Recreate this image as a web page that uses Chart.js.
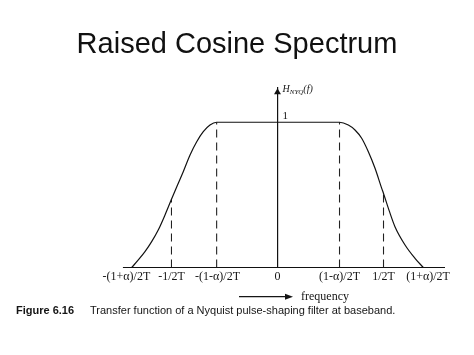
<!DOCTYPE html>
<html>
<head>
<meta charset="utf-8">
<script src="https://cdn.jsdelivr.net/npm/chart.js@4/dist/chart.umd.min.js"></script>
<style>
  html, body { margin: 0; padding: 0; background: #ffffff; }
  #wrap { width: 474px; height: 355px; position: relative; }
</style>
</head>
<body>
<div id="wrap"><canvas id="c" width="474" height="355"></canvas></div>
<script>
// ---- data (x in units of 1/2T, y = |H| normalised) ----
const tickValues = [-1.425, -1.0, -0.566, 0, 0.585, 1.0, 1.42];
const tickLabels = ['-(1+\u03b1)/2T', '-1/2T', '-(1-\u03b1)/2T', '0', '(1-\u03b1)/2T', '1/2T', '(1+\u03b1)/2T'];

const curveX = [-1.375, -1.313, -1.25, -1.187, -1.125, -1.061, -1.0, -0.951, -0.889, -0.825, -0.762, -0.70, -0.637, -0.574,
                 0.585, 0.668, 0.731, 0.794, 0.857, 0.92, 0.983, 1.0, 1.054, 1.108, 1.203, 1.297, 1.375];
const curveY = [0, 0.052, 0.109, 0.178, 0.258, 0.362, 0.47, 0.555, 0.66, 0.775, 0.866, 0.935, 0.981, 1.0,
                1.0, 0.981, 0.947, 0.89, 0.797, 0.683, 0.545, 0.51, 0.39, 0.281, 0.155, 0.063, 0];

const markerX = [-1.0, -0.574, 0.585, 1.0];
const markerTop = [0.47, 1.0, 1.0, 0.51];

const baselineX = [-1.458, 1.58];
const axisTop = 1.206;

// ---- build datasets ----
const curvePts = curveX.map((x, i) => ({ x: x, y: curveY[i] }));
const markerPts = [];
markerX.forEach((x, i) => {
  markerPts.push({ x: x, y: 0 }, { x: x, y: markerTop[i] });
  if (i < markerX.length - 1) markerPts.push({ x: x, y: null });
});

const extras = {
  id: 'extras',
  afterDraw(chart) {
    const ctx = chart.ctx;
    const xs = chart.scales.x, ys = chart.scales.y;
    const x0 = xs.getPixelForValue(0);
    ctx.save();
    ctx.fillStyle = '#151515';
    ctx.strokeStyle = '#151515';
    // "1" label
    ctx.font = '11px "Liberation Serif"';
    ctx.textAlign = 'left';
    ctx.textBaseline = 'alphabetic';
    ctx.fillText('1', x0 + 5, ys.getPixelForValue(1) - 3);
    // H_NYQ(f)
    const yl = ys.getPixelForValue(axisTop);
    ctx.font = 'italic 10px "Liberation Serif"';
    let xx = x0 + 5;
    ctx.fillText('H', xx, yl);
    xx += ctx.measureText('H').width;
    ctx.font = 'italic 7px "Liberation Serif"';
    ctx.fillText('NYQ', xx, yl + 2);
    xx += ctx.measureText('NYQ').width;
    ctx.font = 'italic 10px "Liberation Serif"';
    ctx.fillText('(f)', xx, yl);
    // frequency arrow
    ctx.lineWidth = 1.2;
    ctx.beginPath();
    ctx.moveTo(239, 296.7);
    ctx.lineTo(287, 296.7);
    ctx.stroke();
    ctx.beginPath();
    ctx.moveTo(293, 296.7);
    ctx.lineTo(285, 293.7);
    ctx.lineTo(285, 299.7);
    ctx.closePath();
    ctx.fill();
    ctx.font = '12px "Liberation Serif"';
    ctx.textBaseline = 'middle';
    ctx.textAlign = 'center';
    ctx.fillText('frequency', 325, 297);
    // caption
    ctx.textAlign = 'left';
    ctx.font = 'bold 11px "Liberation Sans"';
    ctx.fillText('Figure 6.16', 16, 311);
    ctx.font = '11px "Liberation Sans"';
    ctx.fillText('Transfer function of a Nyquist pulse-shaping filter at baseband.', 90, 311);
    ctx.restore();
  }
};

new Chart(document.getElementById('c'), {
  type: 'line',
  data: {
    datasets: [
      {
        label: 'H',
        data: curvePts,
        borderColor: '#111111',
        borderWidth: 1.2,
        pointRadius: 0,
        cubicInterpolationMode: 'monotone',
        fill: false
      },
      {
        label: 'markers',
        data: markerPts,
        borderColor: '#222222',
        borderWidth: 1.1,
        borderDash: [8, 5],
        pointRadius: 0,
        spanGaps: false,
        fill: false
      },
      {
        label: 'baseline',
        data: baselineX.map(x => ({ x: x, y: 0 })),
        borderColor: '#111111',
        borderWidth: 1.2,
        pointRadius: 0,
        clip: false,
        fill: false
      },
      {
        label: 'arrow',
        data: [{ x: 0, y: axisTop }],
        showLine: false,
        pointStyle: 'triangle',
        pointRadius: 4,
        pointBackgroundColor: '#111111',
        pointBorderColor: '#111111',
        pointBorderWidth: 0,
        clip: false
      }
    ]
  },
  options: {
    responsive: false,
    animation: false,
    events: [],
    layout: { padding: { left: 29, right: 29, top: 0, bottom: 67.5 } },
    plugins: {
      legend: { display: false },
      tooltip: { enabled: false },
      title: {
        display: true,
        text: 'Raised Cosine Spectrum',
        color: '#111111',
        font: { family: '"Liberation Sans"', size: 29, weight: 'normal', lineHeight: 1.2 },
        padding: { top: 27.5, bottom: 25.7 }
      }
    },
    scales: {
      x: {
        type: 'linear',
        position: 'bottom',
        min: -2.344,
        max: 1.58,
        grid: { display: false, drawTicks: false },
        border: { display: false },
        afterBuildTicks: (s) => { s.ticks = tickValues.map(v => ({ value: v })); },
        afterFit: (s) => { s.height = 20; },
        ticks: {
          autoSkip: false,
          maxRotation: 0,
          padding: 2,
          color: '#151515',
          font: { family: '"Liberation Serif"', size: 12 },
          callback: (v, i) => tickLabels[i]
        }
      },
      y: {
        type: 'linear',
        position: { x: 0 },
        min: 0,
        max: 1.236,
        grid: { display: false, drawTicks: false },
        border: { display: true, color: '#111111', width: 1.2 },
        ticks: { display: false }
      }
    }
  },
  plugins: [extras]
});
</script>
</body>
</html>
